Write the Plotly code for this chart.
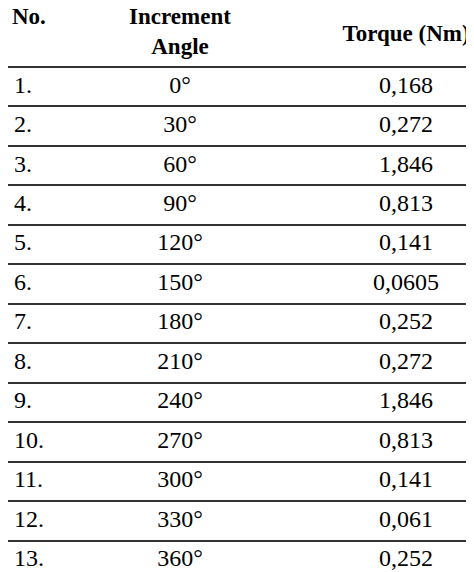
import plotly.graph_objects as go

# table data
row_no = ["1.", "2.", "3.", "4.", "5.", "6.", "7.", "8.", "9.", "10.", "11.", "12.", "13."]
angles = ["0°", "30°", "60°", "90°", "120°", "150°", "180°", "210°", "240°", "270°", "300°", "330°", "360°"]
torque = ["0,168", "0,272", "1,846", "0,813", "0,141", "0,0605", "0,252",
          "0,272", "1,846", "0,813", "0,141", "0,061", "0,252"]
headers = ["No.", "Increment", "Angle", "Torque (Nm)"]

serif = "Times New Roman, Liberation Serif, serif"
body_font = dict(family=serif, size=24, color="black")
head_font = dict(family=serif, size=23, color="black")

y_rows = [i + 0.5 for i in range(len(row_no))]

fig = go.Figure()
fig.add_trace(go.Scatter(x=[6] * len(row_no), y=y_rows, text=row_no, mode="text",
                         textposition="middle right", textfont=body_font))
fig.add_trace(go.Scatter(x=[172] * len(angles), y=y_rows, text=angles, mode="text",
                         textfont=body_font))
fig.add_trace(go.Scatter(x=[398] * len(torque), y=y_rows, text=torque, mode="text",
                         textfont=body_font))
fig.add_trace(go.Scatter(x=[4, 172, 172, 398], y=[-1.22, -1.24, -0.48, -0.8],
                         text=["<b>%s</b>" % h for h in headers], mode="text",
                         textposition=["middle right", "middle center", "middle center", "middle center"],
                         textfont=head_font))

fig.update_layout(
    width=474, height=572,
    margin=dict(l=0, r=0, t=0, b=0),
    plot_bgcolor="white", paper_bgcolor="white",
    showlegend=False,
    xaxis=dict(range=[0, 474], visible=False, fixedrange=True),
    yaxis=dict(range=[13.0, -1.49], tickmode="array", tickvals=list(range(13)),
               showgrid=True, gridcolor="#333333", gridwidth=1.5, zeroline=False,
               showticklabels=False, ticks=""),
)

fig.write_html("out.html")
